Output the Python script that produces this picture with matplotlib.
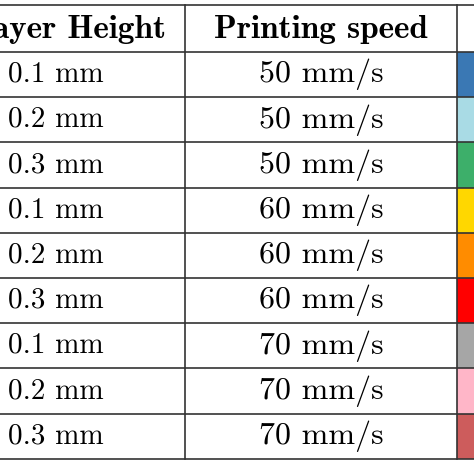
import matplotlib.pyplot as plt

# ==== table data ====
layer_heights = ["0.1 mm", "0.2 mm", "0.3 mm"] * 3
speeds = ["50 mm/s"] * 3 + ["60 mm/s"] * 3 + ["70 mm/s"] * 3
colors = ["#3a78b4", "#a9dbe5", "#3daf6a", "#ffd700", "#ff8c00",
          "#ff0000", "#a6a6a6", "#ffb6c8", "#cd5c5c"]
headers = ["Layer Height", "Printing speed"]

fig = plt.figure(figsize=(4.74, 4.74), dpi=100)
ax = fig.add_axes([0, 0, 1, 1])
ax.set_xlim(0, 474)
ax.set_ylim(474, 0)
ax.axis("off")

top, head_bottom, row_h = 5, 52, 45.2
x_div1, x_div2 = 185, 457

# header
ax.text(166, 29, headers[0], ha="right", va="center", fontsize=24,
        family="cmb10")
ax.text((x_div1 + x_div2) / 2, 29, headers[1], ha="center", va="center",
        fontsize=24, family="cmb10")

for i, (lh, sp, c) in enumerate(zip(layer_heights, speeds, colors)):
    y0 = head_bottom + i * row_h
    ax.add_patch(plt.Rectangle((x_div2, y0), 474 - x_div2, row_h,
                               facecolor=c, edgecolor="none"))
    ax.text(56, y0 + row_h / 2, lh, ha="center", va="center",
            fontsize=21, family="cmr10")
    ax.text((x_div1 + x_div2) / 2, y0 + row_h / 2, sp, ha="center",
            va="center", fontsize=23, family="cmr10")

bottom = head_bottom + len(colors) * row_h
# grid lines
for i in range(len(colors) + 1):
    y = head_bottom + i * row_h
    ax.plot([0, 474], [y, y], color="#333333", lw=1.2)
ax.plot([0, 474], [top, top], color="#333333", lw=1.2)
for x in (x_div1, x_div2):
    ax.plot([x, x], [top, bottom], color="#333333", lw=1.2)

fig.savefig("out.png", dpi=100)
